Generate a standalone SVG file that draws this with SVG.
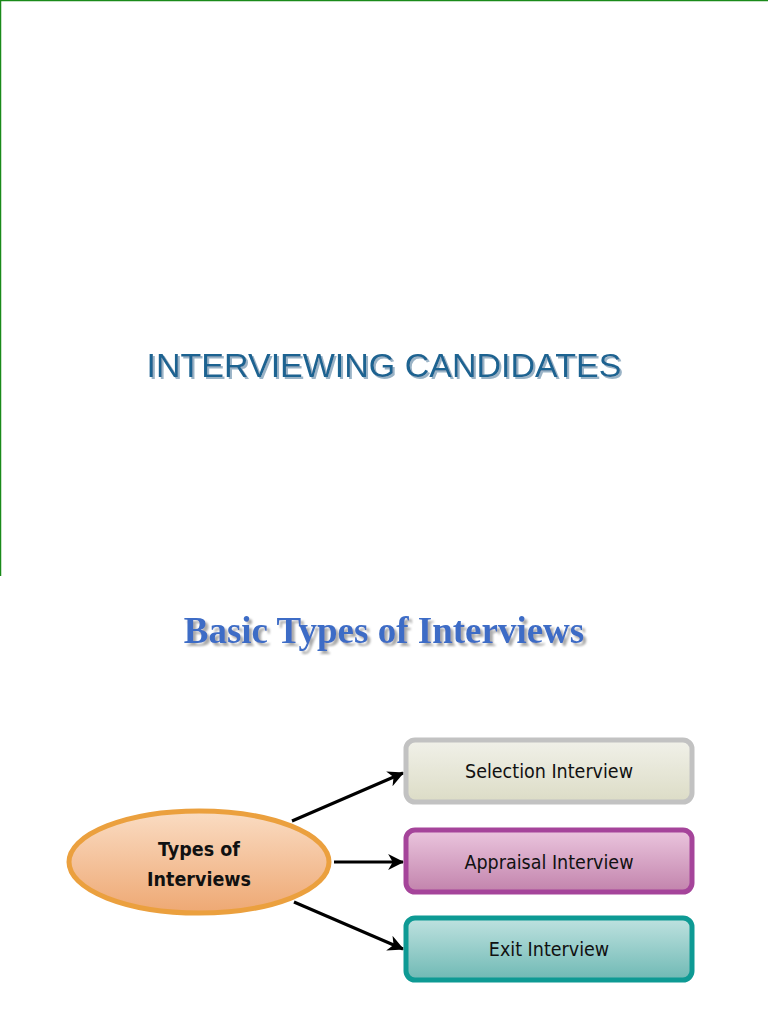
<svg xmlns="http://www.w3.org/2000/svg" width="768" height="1024" viewBox="0 0 768 1024">
<defs>
<style>
.lbl{font-family:"DejaVu Sans Condensed","DejaVu Sans",sans-serif;font-size:19.5px;fill:#111;text-anchor:middle}
.conn{stroke:#000;stroke-width:3;fill:none;marker-end:url(#ah)}
</style>
<filter id="sh1" x="-5%" y="-20%" width="110%" height="140%"><feDropShadow dx="2" dy="2" stdDeviation="0.6" flood-color="#9ab3c6"/></filter>
<filter id="sh2" x="-5%" y="-20%" width="110%" height="140%"><feDropShadow dx="3" dy="3" stdDeviation="0.8" flood-color="#aaaaaa"/></filter>
<marker id="ah" markerWidth="16" markerHeight="16" refX="13" refY="7" orient="auto" markerUnits="userSpaceOnUse" viewBox="0 0 14 14"><path d="M0,0 L14,7 L0,14 L4,7 Z" fill="#000"/></marker>
<linearGradient id="gS" x1="0" y1="0" x2="0" y2="1"><stop offset="0" stop-color="#f1f1e9"/><stop offset="1" stop-color="#dcdcc6"/></linearGradient>
<linearGradient id="gA" x1="0" y1="0" x2="0" y2="1"><stop offset="0" stop-color="#ebc6de"/><stop offset="1" stop-color="#c283ac"/></linearGradient>
<linearGradient id="gE" x1="0" y1="0" x2="0" y2="1"><stop offset="0" stop-color="#bfe2e0"/><stop offset="1" stop-color="#6fb9b4"/></linearGradient>
<linearGradient id="gO" x1="0" y1="0" x2="0" y2="1"><stop offset="0" stop-color="#fadcc3"/><stop offset="1" stop-color="#eea873"/></linearGradient>
</defs>
<rect width="768" height="1024" fill="#fff"/>
<path d="M0.5,576 V0.5 H768" stroke="#1a8a1a" stroke-width="1.5" fill="none"/>
<text x="384" y="377" font-family="Liberation Sans,Arial,sans-serif" font-size="34" fill="#1f6391" text-anchor="middle" filter="url(#sh1)">INTERVIEWING CANDIDATES</text>
<text x="384" y="643" font-family="Liberation Serif,Times New Roman,serif" font-weight="bold" font-size="37" fill="#3d6cc6" text-anchor="middle" filter="url(#sh2)">Basic Types of Interviews</text>
<g id="connectors">
<line class="conn" x1="292" y1="821" x2="403" y2="773"/>
<line class="conn" x1="334" y1="862" x2="403" y2="862"/>
<line class="conn" x1="294" y1="902" x2="403" y2="949"/>
</g>
<g id="types"><ellipse cx="199" cy="862" rx="130" ry="51" fill="url(#gO)" stroke="#eba03e" stroke-width="5"/>
<text class="lbl" x="199" y="856" font-size="22" font-weight="bold">Types of</text><text class="lbl" x="199" y="886" font-size="22" font-weight="bold">Interviews</text></g>
<g id="selection"><rect x="406" y="740" width="286" height="62" rx="9" fill="url(#gS)" stroke="#c2c2c2" stroke-width="5"/><text class="lbl" x="549" y="778">Selection Interview</text></g>
<g id="appraisal"><rect x="406" y="830" width="286" height="62" rx="9" fill="url(#gA)" stroke="#a5449a" stroke-width="5"/><text class="lbl" x="549" y="869">Appraisal Interview</text></g>
<g id="exit"><rect x="406" y="918" width="286" height="62" rx="9" fill="url(#gE)" stroke="#0e9a94" stroke-width="5"/><text class="lbl" x="549" y="956">Exit Interview</text></g>
</svg>
